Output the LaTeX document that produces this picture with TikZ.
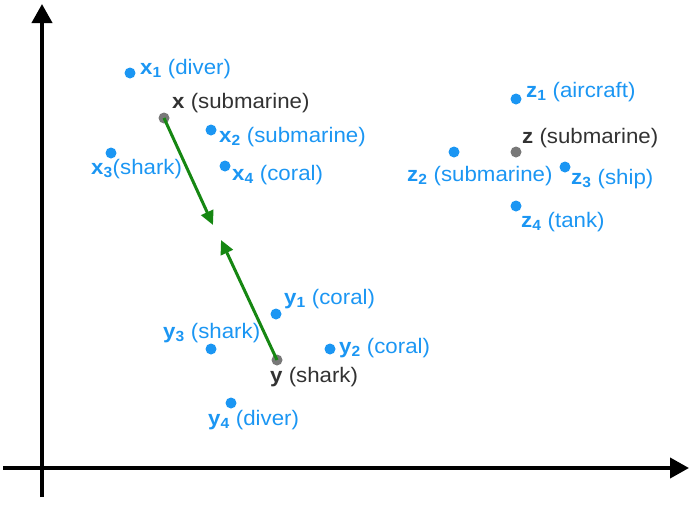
\documentclass[tikz,border=0pt]{standalone}
\usepackage{fontspec}
\setmainfont{Liberation Sans}[FakeStretch=1.06]
\usetikzlibrary{arrows.meta}
\definecolor{ptblue}{RGB}{27,150,243}
\definecolor{ptgray}{RGB}{120,120,120}
\definecolor{ptdark}{RGB}{50,50,50}
\definecolor{ptgreen}{RGB}{22,135,18}
\tikzset{
  bdot/.style={circle,fill=ptblue,inner sep=0pt,minimum size=11pt},
  gdot/.style={circle,fill=ptgray,inner sep=0pt,minimum size=11pt},
  blab/.style={anchor=west,inner sep=0pt,text=ptblue,font=\fontsize{21}{23}\selectfont},
  dlab/.style={anchor=west,inner sep=0pt,text=ptdark,font=\fontsize{21}{23}\selectfont},
  axis/.style={line width=4pt,-{Triangle[length=19pt,width=20pt]}},
  move/.style={line width=3pt,ptgreen,-{Triangle[length=14pt,width=13pt]}}
}
\newcommand{\vname}[2]{{\bfseries #1\textsubscript{#2}}}
\begin{document}
\begin{tikzpicture}[x=1pt,y=-1pt]
\useasboundingbox (0,0) rectangle (697,509);
% axes
\coordinate (yb) at (42,497);
\coordinate (yt) at (42,4);
\coordinate (xl) at (3,468);
\coordinate (xr) at (689,468);
\draw[axis] (yb) -- (yt);
\draw[axis] (xl) -- (xr);
% x group
\node[bdot] (x1) at (130,73) {};
\node[bdot] (x2) at (211,130) {};
\node[bdot] (x3) at (111,153) {};
\node[bdot] (x4) at (225,166) {};
\node[gdot] (x) at (164,118) {};
\node[blab] (lx1) at (140,69) {\vname{x}{1} (diver)};
\node[dlab] (lx) at (172,103) {{\bfseries x} (submarine)};
\node[blab] (lx2) at (219,137) {\vname{x}{2} (submarine)};
\node[blab] (lx3) at (91,169) {\vname{x}{3}(shark)};
\node[blab] (lx4) at (232,175) {\vname{x}{4} (coral)};
% y group
\node[bdot] (y1) at (276,314) {};
\node[bdot] (y2) at (330,349) {};
\node[bdot] (y3) at (211,349) {};
\node[bdot] (y4) at (231,403) {};
\node[gdot] (y) at (277,360) {};
\node[blab] (ly1) at (284,299) {\vname{y}{1} (coral)};
\node[blab] (ly2) at (339,348) {\vname{y}{2} (coral)};
\node[blab] (ly3) at (163,333) {\vname{y}{3} (shark)};
\node[dlab] (ly) at (270,377) {{\bfseries y} (shark)};
\node[blab] (ly4) at (208,420) {\vname{y}{4} (diver)};
% z group
\node[bdot] (z1) at (516,99) {};
\node[bdot] (z2) at (454,152) {};
\node[bdot] (z3) at (565,167) {};
\node[bdot] (z4) at (516,206) {};
\node[gdot] (z) at (516,152) {};
\node[blab] (lz1) at (526,92) {\vname{z}{1} (aircraft)};
\node[dlab] (lz) at (522,138) {{\bfseries z} (submarine)};
\node[blab] (lz2) at (407,176) {\vname{z}{2} (submarine)};
\node[blab] (lz3) at (571,179) {\vname{z}{3} (ship)};
\node[blab] (lz4) at (521,222) {\vname{z}{4} (tank)};
% green moves
\coordinate (mx) at (213,225);
\coordinate (my) at (221,240);
\draw[move] (x.center) -- (mx);
\draw[move] (y.center) -- (my);
\end{tikzpicture}
\end{document}
